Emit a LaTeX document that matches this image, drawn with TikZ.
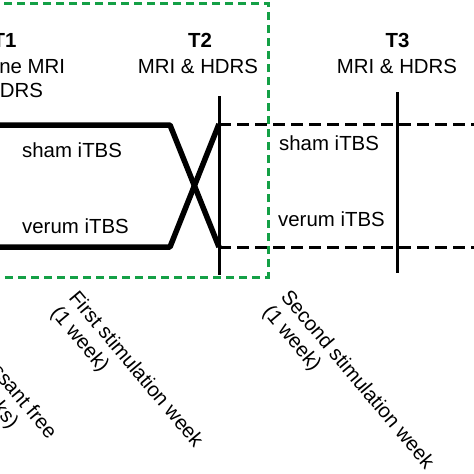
\documentclass[tikz,border=0pt]{standalone}
\usepackage{fontspec}
\setmainfont{Liberation Sans}
\definecolor{boxgreen}{RGB}{20,160,70}

\tikzset{
  lbl/.style={inner sep=0pt, anchor=base, font=\fontsize{20.4}{24}\selectfont},
  tlbl/.style={lbl, font=\fontsize{20.4}{24}\selectfont\bfseries},
  slant/.style={inner sep=0pt, rotate=-50, font=\fontsize{20.4}{24}\selectfont},
  arm/.style={line width=5.5pt, line join=round},
  follow/.style={line width=3pt, dash pattern=on 12pt off 6pt},
  tick/.style={line width=3pt},
}

\begin{document}
\begin{tikzpicture}[x=1pt,y=-1pt]
    \useasboundingbox (0,0) rectangle (474,474);
    \clip (0,0) rectangle (474,474);

    % Time points
    \node[tlbl] (t1) at (4.5,47) {T1};
    \node[lbl] (t1a) at (4.5,73) {Baseline MRI};
    \node[lbl] (t1b) at (4.5,97) {\& HDRS};
    \node[tlbl] (t2) at (200,47) {T2};
    \node[lbl] (t2a) at (198,73) {MRI \& HDRS};
    \node[tlbl] (t3) at (397.5,47) {T3};
    \node[lbl] (t3a) at (397,73) {MRI \& HDRS};

    % Markers at T2 and T3
    \coordinate (t2top) at (219,96);
    \coordinate (t2bot) at (219,275);
    \coordinate (t3top) at (397,92);
    \coordinate (t3bot) at (397,273);
    \draw[tick] (t2top) -- (t2bot);
    \draw[tick] (t3top) -- (t3bot);

    % Groups before crossover
    \coordinate (upA) at (-10,125);
    \coordinate (upB) at (170,125);
    \coordinate (upC) at (219,247);
    \coordinate (lowA) at (-10,247);
    \coordinate (lowB) at (170,247);
    \coordinate (lowC) at (219,124);
    \draw[arm] (upA) -- (upB) -- (upC);
    \draw[arm] (lowA) -- (lowB) -- (lowC);

    % Groups after crossover
    \coordinate (upD) at (480,124);
    \coordinate (lowD) at (480,247);
    \draw[follow] (lowC) -- (upD);
    \draw[follow] (upC) -- (lowD);

    \node[lbl, anchor=base west] (sham1) at (22,157) {sham iTBS};
    \node[lbl, anchor=base west] (verum1) at (22,233) {verum iTBS};
    \node[lbl, anchor=base west] (sham2) at (279,150) {sham iTBS};
    \node[lbl, anchor=base west] (verum2) at (278,226) {verum iTBS};

    % First stimulation week box
    \draw[boxgreen, line width=3pt, dash pattern=on 8pt off 5pt] (-20,3) rectangle (268,277);

    % Periods
    \node[slant, anchor=base east] (free) at (48,440) {Antidepressant free};
    \node[slant, anchor=base east] (freeb) at (10,430) {(2 weeks)};
    \node[slant, anchor=base west] (wk1) at (68,298) {First stimulation week};
    \node[slant, anchor=base west] (wk1b) at (50,313) {(1 week)};
    \node[slant, anchor=base west] (wk2) at (280,297) {Second stimulation week};
    \node[slant, anchor=base west] (wk2b) at (262,312) {(1 week)};
\end{tikzpicture}
\end{document}
